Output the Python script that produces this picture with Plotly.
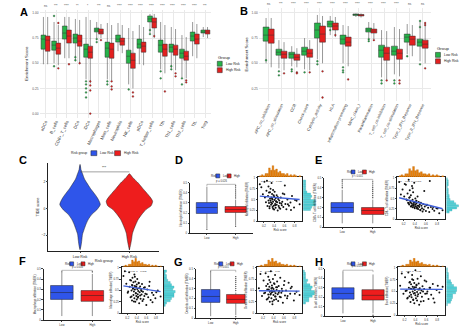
import plotly.graph_objects as go

W, H = 474, 336
FONT = "Liberation Sans"
GREEN, RED_A = "#27b34a", "#e3201f"
BLUE, RED = "#2f55ea", "#ee1d1d"
ORANGE, CYAN = "#e8820c", "#56d4da"

# ---------------- Panel A data ----------------
catsA = ["aDCs", "B_cells", "CD8+_T_cells", "DCs", "iDCs", "Macrophages", "Mast_cells", "Neutrophils",
         "NK_cells", "pDCs", "T_helper_cells", "Tfh", "Th1_cells", "Th2_cells", "TIL", "Treg"]
sigA = ["ns", "***", "****", "**", "*", "***", "ns", "****", "****", "****", "****", "****", "****", "****", "****", "***"]
A_low_lf = [0.49, 0.50, 0.55, 0.52, 0.34, 0.75, 0.34, 0.62, 0.29, 0.49, 0.80, 0.44, 0.45, 0.36, 0.57, 0.76]
A_low_q1 = [0.64, 0.63, 0.74, 0.70, 0.56, 0.81, 0.56, 0.71, 0.50, 0.65, 0.91, 0.61, 0.61, 0.55, 0.72, 0.80]
A_low_med = [0.74, 0.68, 0.80, 0.75, 0.64, 0.83, 0.65, 0.74, 0.57, 0.69, 0.94, 0.68, 0.66, 0.60, 0.77, 0.81]
A_low_q3 = [0.78, 0.72, 0.87, 0.79, 0.69, 0.85, 0.71, 0.78, 0.63, 0.74, 0.97, 0.73, 0.69, 0.64, 0.81, 0.83]
A_low_uf = [0.96, 0.91, 0.96, 0.94, 0.96, 0.91, 0.90, 0.90, 0.85, 0.88, 0.99, 0.91, 0.86, 0.78, 0.91, 0.86]
A_high_lf = [0.49, 0.48, 0.55, 0.50, 0.30, 0.75, 0.33, 0.60, 0.25, 0.48, 0.75, 0.40, 0.43, 0.35, 0.55, 0.75]
A_high_q1 = [0.62, 0.59, 0.70, 0.67, 0.55, 0.79, 0.55, 0.68, 0.45, 0.61, 0.85, 0.57, 0.58, 0.53, 0.69, 0.79]
A_high_med = [0.73, 0.65, 0.77, 0.72, 0.61, 0.81, 0.64, 0.72, 0.53, 0.67, 0.91, 0.64, 0.64, 0.57, 0.74, 0.81]
A_high_q3 = [0.77, 0.70, 0.83, 0.78, 0.67, 0.84, 0.70, 0.75, 0.60, 0.71, 0.95, 0.69, 0.68, 0.62, 0.79, 0.83]
A_high_uf = [0.96, 0.88, 0.96, 0.93, 0.93, 0.89, 0.88, 0.88, 0.82, 0.86, 0.99, 0.88, 0.84, 0.76, 0.89, 0.86]
A_out_low_idx = [1, 1, 3, 3, 4, 4, 4, 4, 4, 5, 5, 6, 6, 8, 10, 10, 11, 11, 12, 12, 13, 13]
A_out_low_val = [0.47, 0.97, 0.56, 0.53, 0.32, 0.29, 0.25, 0.21, 0.16, 0.74, 0.71, 0.32, 0.29, 0.24, 0.83, 0.79,
                 0.42, 0.35, 0.47, 0.44, 0.35, 0.29]
A_out_high_idx = [1, 1, 2, 3, 4, 4, 4, 4, 5, 6, 6, 6, 8, 8, 10, 11, 12, 12, 13, 13]
A_out_high_val = [0.45, 0.90, 0.49, 0.50, 0.32, 0.28, 0.23, 0.00, 0.73, 0.32, 0.27, 0.24, 0.21, 0.17, 0.77, 0.22,
                  0.40, 0.37, 0.33, 0.31]

# ---------------- Panel B data ----------------
catsB = ["APC_co_inhibition", "APC_co_stimulation", "CCR", "Check-point", "Cytolytic_activity", "HLA",
         "Inflammation-promoting", "MHC_class_I", "Parainflammation", "T_cell_co-inhibition",
         "T_cell_co-stimulation", "Type_I_IFN_Reponse", "Type_II_IFN_Reponse"]
sigB = ["ns", "***", "****", "****", "****", "****", "****", "****", "****", "****", "****", "ns", "ns"]
B_low_lf = [0.50, 0.45, 0.47, 0.44, 0.54, 0.78, 0.50, 0.96, 0.75, 0.36, 0.39, 0.59, 0.52]
B_low_q1 = [0.72, 0.58, 0.55, 0.58, 0.75, 0.86, 0.69, 0.975, 0.81, 0.56, 0.58, 0.71, 0.67]
B_low_med = [0.78, 0.61, 0.59, 0.62, 0.83, 0.89, 0.74, 0.985, 0.83, 0.63, 0.62, 0.76, 0.71]
B_low_q3 = [0.86, 0.64, 0.61, 0.66, 0.90, 0.92, 0.78, 0.99, 0.85, 0.68, 0.67, 0.79, 0.74]
B_low_uf = [0.95, 0.73, 0.67, 0.75, 0.98, 0.97, 0.88, 0.995, 0.91, 0.83, 0.86, 0.89, 0.91]
B_high_lf = [0.46, 0.43, 0.46, 0.43, 0.50, 0.76, 0.47, 0.955, 0.74, 0.34, 0.37, 0.57, 0.50]
B_high_q1 = [0.70, 0.55, 0.53, 0.56, 0.71, 0.83, 0.67, 0.97, 0.80, 0.53, 0.54, 0.68, 0.65]
B_high_med = [0.78, 0.59, 0.56, 0.60, 0.79, 0.87, 0.71, 0.98, 0.82, 0.60, 0.60, 0.74, 0.69]
B_high_q3 = [0.84, 0.62, 0.59, 0.64, 0.87, 0.90, 0.76, 0.985, 0.84, 0.66, 0.64, 0.77, 0.73]
B_high_uf = [0.95, 0.71, 0.65, 0.73, 0.97, 0.96, 0.87, 0.995, 0.90, 0.82, 0.84, 0.88, 0.90]
B_out_low_idx = [0, 1, 1, 2, 2, 3, 4, 4, 5, 6, 6, 6, 8, 8, 9, 9, 10, 10, 11, 12, 12, 12]
B_out_low_val = [0.53, 0.42, 0.38, 0.44, 0.42, 0.41, 0.52, 0.49, 0.83, 0.46, 0.43, 0.41, 0.74, 0.72, 0.33, 0.30,
                 0.33, 0.30, 0.57, 0.49, 0.86, 0.92]
B_out_high_idx = [1, 2, 2, 3, 4, 4, 5, 6, 8, 9, 10, 10, 12, 12, 12]
B_out_high_val = [0.40, 0.41, 0.40, 0.41, 0.42, 0.16, 0.78, 0.34, 0.73, 0.33, 0.33, 0.30, 0.45, 0.88, 0.90]

# ---------------- Panel C data (TIDE violin) ----------------
groupsC = ["Low Risk", "High Risk"]
viol_low_y = [3.3, 2.9, 2.6, 2.2, 1.9, 1.5, 1.16, 0.8, 0.3, -0.1, -0.44, -0.8, -1.19, -1.6, -1.93, -2.4, -2.8, -3.1]
viol_low_hw = [0.0, 0.02, 0.05, 0.09, 0.14, 0.21, 0.28, 0.35, 0.41, 0.34, 0.24, 0.17, 0.12, 0.08, 0.05, 0.035, 0.02, 0.0]
viol_high_y = [2.6, 2.3, 1.9, 1.5, 1.16, 0.85, 0.54, 0.2, -0.07, -0.45, -0.81, -1.2, -1.56, -1.9, -2.3, -2.7, -3.1]
viol_high_hw = [0.0, 0.07, 0.18, 0.27, 0.35, 0.42, 0.47, 0.44, 0.34, 0.25, 0.18, 0.13, 0.09, 0.06, 0.045, 0.025, 0.0]
C_low_box = [-3.0, -0.2, 0.15, 0.9, 3.2]   # lf, q1, median, q3, uf
C_high_box = [-3.1, 0.07, 0.6, 1.2, 2.5]

# ---------------- Panels D-H data ----------------
risk_score = [0.12, 0.18, 0.21, 0.24, 0.25, 0.27, 0.28, 0.29, 0.30, 0.30,
              0.31, 0.32, 0.33, 0.33, 0.34, 0.35, 0.35, 0.36, 0.36, 0.37,
              0.37, 0.38, 0.38, 0.39, 0.40, 0.40, 0.41, 0.41, 0.42, 0.43,
              0.43, 0.44, 0.45, 0.45, 0.46, 0.47, 0.48, 0.49, 0.50, 0.51,
              0.52, 0.53, 0.55, 0.56, 0.58, 0.60, 0.62, 0.64, 0.66, 0.69,
              0.72, 0.75, 0.79, 0.84, 0.90,
              0.15, 0.22, 0.26, 0.29, 0.31, 0.32, 0.34, 0.36, 0.38, 0.39, 0.42, 0.44, 0.47, 0.50, 0.54,
              0.57, 0.61, 0.67, 0.73, 0.81]
D_cell = [0.85, 0.62, 0.91, 0.44, 0.70, 0.35, 0.58, 0.80, 0.42, 0.66, 0.30, 0.52, 0.75, 0.47, 0.38, 0.88, 0.55, 0.41,
          0.63, 0.33, 0.50, 0.72, 0.45, 0.36, 0.57, 0.27, 0.49, 0.68, 0.40, 0.53, 0.31, 0.46, 0.60, 0.38, 0.44, 0.25,
          0.51, 0.35, 0.48, 0.42, 0.29, 0.55, 0.37, 0.45, 0.33, 0.62, 0.40, 0.28, 0.50, 0.36, 0.43, 0.58, 0.32, 0.47,
          0.39,
          0.78, 0.55, 0.93, 0.48, 0.34, 0.67, 0.43, 0.52, 0.29, 0.60, 0.37, 0.45, 0.56, 0.31, 0.41,
          0.64, 0.82, 0.39, 0.26, 0.49]
E_cell = [0.90, 0.72, 0.55, 0.83, 0.48, 0.62, 0.40, 0.95, 0.52, 0.36, 0.70, 0.44, 0.31, 0.58, 0.39, 0.80, 0.34, 0.47,
          0.29, 0.65, 0.37, 0.42, 0.33, 0.88, 0.40, 0.27, 0.50, 0.35, 0.31, 0.45, 0.38, 0.28, 0.55, 0.33, 0.25, 0.42,
          0.30, 0.36, 0.22, 0.40, 0.33, 0.27, 0.37, 0.24, 0.31, 0.20, 0.35, 0.28, 0.18, 0.30, 0.25, 0.21, 0.27, 0.15,
          0.22,
          0.60, 0.85, 0.46, 0.38, 0.53, 0.41, 0.32, 0.75, 0.36, 0.29, 0.43, 0.26, 0.33, 0.23, 0.19,
          0.68, 0.34, 0.92, 0.30, 0.26]
F_cell = [0.82, 0.65, 0.45, 0.90, 0.58, 0.35, 0.72, 0.50, 0.62, 0.28, 0.78, 0.55, 0.40, 0.68, 0.48, 0.85, 0.33, 0.60,
          0.52, 0.25, 0.70, 0.44, 0.57, 0.38, 0.63, 0.30, 0.53, 0.75, 0.42, 0.49, 0.36, 0.66, 0.22, 0.55, 0.46, 0.59,
          0.32, 0.51, 0.41, 0.64, 0.27, 0.47, 0.56, 0.38, 0.43, 0.18, 0.52, 0.35, 0.60, 0.29, 0.45, 0.40, 0.33, 0.50,
          0.37,
          0.92, 0.48, 0.73, 0.37, 0.61, 0.54, 0.26, 0.80, 0.44, 0.58, 0.34, 0.67, 0.39, 0.49, 0.31,
          0.57, 0.42, 0.69, 0.24, 0.46]
G_cell = [0.55, 0.38, 0.72, 0.45, 0.88, 0.30, 0.52, 0.64, 0.41, 0.80, 0.35, 0.58, 0.47, 0.25, 0.68, 0.43, 0.92, 0.50,
          0.33, 0.61, 0.46, 0.20, 0.56, 0.75, 0.40, 0.53, 0.29, 0.66, 0.48, 0.37, 0.84, 0.44, 0.57, 0.31, 0.51, 0.70,
          0.42, 0.27, 0.60, 0.49, 0.36, 0.78, 0.45, 0.54, 0.23, 0.62, 0.39, 0.50, 0.33, 0.67, 0.43, 0.58, 0.28, 0.47,
          0.40,
          0.86, 0.44, 0.60, 0.32, 0.52, 0.73, 0.41, 0.55, 0.26, 0.48, 0.64, 0.37, 0.57, 0.45, 0.35,
          0.49, 0.71, 0.38, 0.55, 0.43]
H_cell = [0.62, 0.45, 0.80, 0.52, 0.35, 0.90, 0.58, 0.40, 0.70, 0.48, 0.28, 0.65, 0.55, 0.38, 0.85, 0.50, 0.60, 0.33,
          0.74, 0.46, 0.56, 0.25, 0.68, 0.53, 0.42, 0.95, 0.59, 0.36, 0.63, 0.49, 0.31, 0.77, 0.54, 0.44, 0.67, 0.22,
          0.57, 0.47, 0.82, 0.52, 0.39, 0.61, 0.30, 0.55, 0.45, 0.71, 0.50, 0.34, 0.58, 0.43, 0.66, 0.27, 0.53, 0.48,
          0.60,
          0.88, 0.51, 0.37, 0.69, 0.56, 0.43, 0.76, 0.32, 0.59, 0.47, 0.64, 0.40, 0.54, 0.29, 0.50,
          0.73, 0.46, 0.58, 0.35, 0.62]
# box stats: lowerfence, q1, median, q3, upperfence
D_low, D_high = [0.05, 0.196, 0.255, 0.304, 0.46], [0.08, 0.206, 0.235, 0.265, 0.333]
E_low, E_high = [0.04, 0.15, 0.20, 0.25, 0.38], [0.04, 0.13, 0.17, 0.20, 0.28]
F_low, F_high = [0.04, 0.202, 0.269, 0.337, 0.48], [0.04, 0.183, 0.24, 0.288, 0.45]
G_low, G_high = [0.02, 0.16, 0.22, 0.29, 0.48], [0.03, 0.15, 0.19, 0.24, 0.26]
H_low, H_high = [0.03, 0.18, 0.24, 0.30, 0.47], [0.03, 0.17, 0.22, 0.28, 0.44]
D_low_out, D_high_out = [0.04], [0.35, 0.37, 0.39, 0.41, 0.43, 0.45, 0.47, 0.07]
E_low_out, E_high_out = [0.40, 0.42, 0.44, 0.46, 0.48], [0.30, 0.32, 0.34, 0.36, 0.38, 0.40, 0.42, 0.44, 0.46]
F_low_out, F_high_out = [], [0.47]
G_low_out, G_high_out = [], [0.28, 0.30, 0.32, 0.34, 0.36, 0.38, 0.40, 0.42, 0.015]
H_low_out, H_high_out = [], [0.01]
# regression fit (intercept, slope)
D_fit, E_fit, F_fit, G_fit, H_fit = [0.59, -0.10], [0.56, -0.34], [0.62, -0.16], [0.495, -0.01], [0.55, -0.005]
p_box = ["p = 0.026", "p < 0.001", "p = 0.004", "p < 0.001", "p = 0.031"]
r_text = ["R = -0.11, p = 0.021", "R = -0.32, p < 0.001", "R = -0.15, p = 0.002", "R = -0.02, p = 0.68",
          "R = -0.01, p = 0.83"]
cell_titles = ["Neutrophil infiltration (TIMER)", "CD8+ T cell infiltration (TIMER)",
               "Macrophage infiltration (TIMER)", "Dendritic cell infiltration (TIMER)",
               "B cell infiltration (TIMER)"]
risk_levels = ["Low", "High"]


# ---------------- helpers ----------------
def dom_x(a, b):
    return [a / W, b / W]


def dom_y(top, bottom):
    return [1 - bottom / H, 1 - top / H]


def px(x):
    return x / W


def py(y):
    return 1 - y / H


def names(n):
    s = "" if n == 1 else str(n)
    return "xaxis" + s, "yaxis" + s, "x" + s, "y" + s


fig = go.Figure()
layout = {}
ann = []
shp = []


def set_axes(n, xd, yd, xa=None, ya=None):
    xn, yn, xr, yr = names(n)
    bx = dict(domain=dom_x(*xd), anchor=yr, showgrid=False, zeroline=False, showline=False, ticks="",
              showticklabels=False, fixedrange=True)
    by = dict(domain=dom_y(*yd), anchor=xr, showgrid=False, zeroline=False, showline=False, ticks="",
              showticklabels=False, fixedrange=True)
    bx.update(xa or {})
    by.update(ya or {})
    layout[xn] = bx
    layout[yn] = by
    return xr, yr


def text(x, y, s, size=4, anchor="left", bold=False, color="#222", xref="paper", yref="paper", yanchor="middle"):
    ann.append(dict(x=x, y=y, xref=xref, yref=yref, text=("<b>%s</b>" % s) if bold else s, showarrow=False,
                    xanchor=anchor, yanchor=yanchor, font=dict(size=size, color=color, family=FONT)))


def rect(x0, y0, x1, y1, fill, line="#222"):
    shp.append(dict(type="rect", xref="paper", yref="paper", x0=px(x0), x1=px(x1), y0=py(y1), y1=py(y0),
                    fillcolor=fill, line=dict(color=line, width=0.5)))


def grouped_boxes(xr, yr, cats, stats_low, stats_high, out_low, out_high, off, width):
    idx = list(range(len(cats)))
    for stats, col, sgn, outs in [(stats_low, GREEN, -1, out_low), (stats_high, RED_A, 1, out_high)]:
        lf, q1, med, q3, uf = stats
        fig.add_trace(go.Box(x=[i + sgn * off for i in idx], q1=q1, median=med, q3=q3, lowerfence=lf,
                             upperfence=uf, width=width, whiskerwidth=0, fillcolor=col,
                             line=dict(color="#333333", width=0.5), boxpoints=False, orientation="v",
                             xaxis=xr, yaxis=yr, showlegend=False, hoverinfo="skip"))
        fig.add_trace(go.Scatter(x=[i + sgn * off for i in outs[0]], y=outs[1], mode="markers",
                                 marker=dict(size=1.8, color=col, line=dict(color="#222", width=0.3)),
                                 xaxis=xr, yaxis=yr, showlegend=False, hoverinfo="skip"))


grid = dict(showgrid=True, gridcolor="#e9e9e9", gridwidth=0.6)

# ---------------- Panel A ----------------
xa, ya = set_axes(1, (34, 208), (8, 117),
                  dict(range=[-0.56, 15.56], tickvals=list(range(len(catsA))), ticktext=catsA, tickangle=-65,
                       showticklabels=True, tickfont=dict(size=4.3, color="#333"), **grid),
                  dict(range=[-0.04, 1.03], tickvals=[0, 0.25, 0.5, 0.75, 1.0],
                       ticktext=["0.00", "0.25", "0.50", "0.75", "1.00"], showticklabels=True,
                       tickfont=dict(size=3.2, color="#555"), **grid,
                       title=dict(text="Enrichment Score", font=dict(size=4.3), standoff=3)))
grouped_boxes(xa, ya, catsA, [A_low_lf, A_low_q1, A_low_med, A_low_q3, A_low_uf],
              [A_high_lf, A_high_q1, A_high_med, A_high_q3, A_high_uf],
              (A_out_low_idx, A_out_low_val), (A_out_high_idx, A_out_high_val), 0.2, 0.44)
for i, s in enumerate(sigA):
    text(i, 1.0, s, size=3, anchor="center", xref=xa, yref="y domain", yanchor="bottom", color="#444")

# ---------------- Panel B ----------------
xb, yb = set_axes(2, (256, 430), (6, 100),
                  dict(range=[-0.77, 12.62], tickvals=list(range(len(catsB))), ticktext=catsB, tickangle=-65,
                       showticklabels=True, tickfont=dict(size=4.0, color="#333"), **grid),
                  dict(range=[0.127, 1.05], tickvals=[0.25, 0.5, 0.75, 1.0],
                       ticktext=["0.25", "0.50", "0.75", "1.00"], showticklabels=True,
                       tickfont=dict(size=3.2, color="#555"), **grid,
                       title=dict(text="Enrichment Score", font=dict(size=4.3), standoff=3)))
grouped_boxes(xb, yb, catsB, [B_low_lf, B_low_q1, B_low_med, B_low_q3, B_low_uf],
              [B_high_lf, B_high_q1, B_high_med, B_high_q3, B_high_uf],
              (B_out_low_idx, B_out_low_val), (B_out_high_idx, B_out_high_val), 0.2, 0.46)
for i, s in enumerate(sigB):
    ann.append(dict(x=i, y=1.0, xref=xb, yref="y2 domain", text=s, showarrow=False, xanchor="center",
                    yanchor="bottom", font=dict(size=3, color="#444", family=FONT)))

# Group legends for A and B
for (lx, ly) in [(213, 56), (434, 47)]:
    text(px(lx), py(ly), "Group", size=4.3)
    rect(lx + 1, ly + 4, lx + 6, ly + 9, GREEN)
    rect(lx + 1, ly + 10.5, lx + 6, ly + 15.5, RED_A)
    text(px(lx + 8), py(ly + 6.5), "Low Risk", size=3.4)
    text(px(lx + 8), py(ly + 13), "High Risk", size=3.4)

# ---------------- Panel C ----------------
xc, yc = set_axes(3, (43, 155), (163, 252),
                  dict(range=[0.36, 2.6], tickvals=[1, 2], ticktext=groupsC, showticklabels=True,
                       showline=True, linecolor="#222", linewidth=0.6, ticks="outside", ticklen=1.5,
                       tickwidth=0.5, tickfont=dict(size=3.6), title=dict(text="Risk group", font=dict(size=3.8),
                                                                            standoff=1)),
                  dict(range=[-3.19, 3.4], tickvals=[-2, 0, 2], showticklabels=True, showline=True,
                       linecolor="#222", linewidth=0.6, ticks="outside", ticklen=1.5, tickwidth=0.5,
                       tickfont=dict(size=3.4), title=dict(text="TIDE score", font=dict(size=3.8), standoff=2)))
for pos, vy, vw, col in [(1, viol_low_y, viol_low_hw, BLUE), (2, viol_high_y, viol_high_hw, RED)]:
    xs = [pos + w for w in vw] + [pos - w for w in vw[::-1]]
    ys = vy + vy[::-1]
    fig.add_trace(go.Scatter(x=xs, y=ys, mode="lines", fill="toself", fillcolor=col,
                             line=dict(color="#222", width=0.5, shape="spline", smoothing=0.6),
                             xaxis=xc, yaxis=yc, showlegend=False, hoverinfo="skip"))
for pos, st in [(1, C_low_box), (2, C_high_box)]:
    fig.add_trace(go.Box(x=[pos], lowerfence=[st[0]], q1=[st[1]], median=[st[2]], q3=[st[3]],
                         upperfence=[st[4]], width=0.28, whiskerwidth=0, fillcolor="white",
                         line=dict(color="#111", width=0.6), boxpoints=False, xaxis=xc, yaxis=yc,
                         showlegend=False, hoverinfo="skip"))
shp.append(dict(type="line", xref=xc, yref=yc, x0=1, x1=2, y0=2.74, y1=2.74, line=dict(color="#444", width=0.5)))
ann.append(dict(x=1.5, y=2.74, xref=xc, yref=yc, text="***", showarrow=False, yanchor="bottom",
                font=dict(size=3.5, family=FONT)))
text(px(84), py(153), "Risk group", size=3.4, anchor="right")
rect(86, 150.5, 92, 155.5, BLUE)
text(px(93.5), py(153), "Low Risk", size=3.4)
rect(110, 150.5, 116, 155.5, RED)
text(px(117.5), py(153), "High Risk", size=3.4)

# ---------------- Panels D-H ----------------
geo = [
    dict(box=(186, 250, 183, 234), sc=(255, 300, 177, 222), top=(165, 177), right=(301, 314), leg=(206, 176), lab=(175, 160)),
    dict(box=(322, 390, 178, 228), sc=(396, 445, 177, 220), top=(166, 177), right=(446, 459), leg=(343, 172), lab=(316, 160)),
    dict(box=(38, 106, 270, 322), sc=(117, 159, 268, 315), top=(259, 268), right=(160, 172), leg=(58, 265), lab=(17, 262)),
    dict(box=(192, 248, 270, 320), sc=(254, 300, 268, 315), top=(259, 268), right=(301, 313), leg=(209, 265), lab=(175, 263)),
    dict(box=(323, 390, 270, 318), sc=(397, 445, 268, 317), top=(259, 268), right=(446, 457), leg=(343, 265), lab=(317, 263)),
]
letters = ["D", "E", "F", "G", "H"]
cells = [D_cell, E_cell, F_cell, G_cell, H_cell]
lows = [D_low, E_low, F_low, G_low, H_low]
highs = [D_high, E_high, F_high, G_high, H_high]
lows_out = [D_low_out, E_low_out, F_low_out, G_low_out, H_low_out]
highs_out = [D_high_out, E_high_out, F_high_out, G_high_out, H_high_out]
fits = [D_fit, E_fit, F_fit, G_fit, H_fit]

axline = dict(showline=True, linecolor="#222", linewidth=0.5, ticks="outside", ticklen=1.3, tickwidth=0.4,
              showticklabels=True, tickfont=dict(size=2.8, color="#333"))
for k in range(5):
    g = geo[k]
    n0 = 4 + 4 * k
    bl, br, bt, bb = g["box"]
    xr, yr = set_axes(n0, (bl, br), (bt, bb),
                      dict(range=[0.4, 2.6], tickvals=[1, 2], ticktext=risk_levels, **axline),
                      dict(range=[0, 0.5], tickvals=[0, 0.1, 0.2, 0.3, 0.4, 0.5], **axline,
                           title=dict(text=cell_titles[k], font=dict(size=2.8), standoff=1)))
    for pos, st, col, outs in [(1, lows[k], BLUE, lows_out[k]), (2, highs[k], RED, highs_out[k])]:
        fig.add_trace(go.Box(x=[pos], lowerfence=[st[0]], q1=[st[1]], median=[st[2]], q3=[st[3]],
                             upperfence=[st[4]], width=0.74, whiskerwidth=0, fillcolor=col,
                             line=dict(color="#222", width=0.5), boxpoints=False, xaxis=xr, yaxis=yr,
                             showlegend=False, hoverinfo="skip"))
        if outs:
            fig.add_trace(go.Scatter(x=[pos] * len(outs), y=outs, mode="markers",
                                     marker=dict(size=1.3, color="#333"), xaxis=xr, yaxis=yr,
                                     showlegend=False, hoverinfo="skip"))
    ydom = yr + " domain"
    shp.append(dict(type="path", xref=xr, yref=ydom, path="M 1,0.93 L 1,0.97 L 2,0.97 L 2,0.93",
                    line=dict(color="#555", width=0.4)))
    ann.append(dict(x=1.5, y=0.965, xref=xr, yref=ydom, text=p_box[k], showarrow=False, yanchor="bottom",
                    font=dict(size=2.6, family=FONT, color="#333")))
    # legend
    lx, ly = g["leg"]
    text(px(lx), py(ly), "Risk", size=2.9)
    rect(lx + 6.5, ly - 2, lx + 10.5, ly + 2, BLUE)
    text(px(lx + 11.5), py(ly), "Low", size=2.9)
    rect(lx + 18, ly - 2, lx + 22, ly + 2, RED)
    text(px(lx + 23), py(ly), "High", size=2.9)
    # panel letter
    text(px(g["lab"][0]), py(g["lab"][1]), letters[k], size=11, anchor="center", bold=True, color="#000")

    # scatter
    sl, sr, st_, sb = g["sc"]
    xs_, ys_ = set_axes(n0 + 1, (sl, sr), (st_, sb),
                        dict(range=[0.08, 0.95], tickvals=[0.2, 0.4, 0.6, 0.8], mirror=True, **axline,
                             title=dict(text="Risk score", font=dict(size=2.8), standoff=1)),
                        dict(range=[0, 1.02], tickvals=[0, 0.25, 0.5, 0.75, 1.0], mirror=True, **axline,
                             title=dict(text=cell_titles[k], font=dict(size=2.6), standoff=1)))
    fig.add_trace(go.Scatter(x=risk_score, y=cells[k], mode="markers", marker=dict(size=2.0, color="#111"),
                             xaxis=xs_, yaxis=ys_, showlegend=False, hoverinfo="skip"))
    x_end = [min(risk_score), max(risk_score)]
    a_, b_ = fits[k]
    fig.add_trace(go.Scatter(x=x_end, y=[a_ + b_ * v for v in x_end], mode="lines",
                             line=dict(color="#3f5fd8", width=1.4), xaxis=xs_, yaxis=ys_, showlegend=False,
                             hoverinfo="skip"))
    ann.append(dict(x=0.03, y=0.97, xref=xs_ + " domain", yref=ys_ + " domain", text=r_text[k], showarrow=False,
                    xanchor="left", yanchor="top", font=dict(size=2.4, family=FONT, color="#222")))
    # top histogram (risk score)
    tt, tb = g["top"]
    xt, yt = set_axes(n0 + 2, (sl, sr), (tt, tb), dict(range=[0.08, 0.95]), dict(rangemode="tozero"))
    fig.add_trace(go.Histogram(x=risk_score, xbins=dict(start=0.08, end=0.95, size=0.035),
                               marker=dict(color=ORANGE, line=dict(color="#b85f00", width=0.3)),
                               xaxis=xt, yaxis=yt, showlegend=False, hoverinfo="skip"))
    # right histogram (cell)
    rl, rr = g["right"]
    xrh, yrh = set_axes(n0 + 3, (rl, rr), (st_, sb), dict(rangemode="tozero"), dict(range=[0, 1.02]))
    fig.add_trace(go.Histogram(y=cells[k], ybins=dict(start=0, end=1.0, size=0.05),
                               marker=dict(color=CYAN, line=dict(color="#2a9ea6", width=0.3)),
                               xaxis=xrh, yaxis=yrh, showlegend=False, hoverinfo="skip"))

# panel letters A-C
text(px(18), py(10), "A", size=11, anchor="center", bold=True, color="#000")
text(px(241), py(9), "B", size=11, anchor="center", bold=True, color="#000")
text(px(17), py(160), "C", size=11, anchor="center", bold=True, color="#000")

fig.update_layout(width=W, height=H, margin=dict(l=0, r=0, t=0, b=0), paper_bgcolor="white",
                  plot_bgcolor="white", showlegend=False, bargap=0.05,
                  font=dict(family=FONT, size=4, color="#222"), annotations=ann, shapes=shp, **layout)
fig.write_html("out.html")
